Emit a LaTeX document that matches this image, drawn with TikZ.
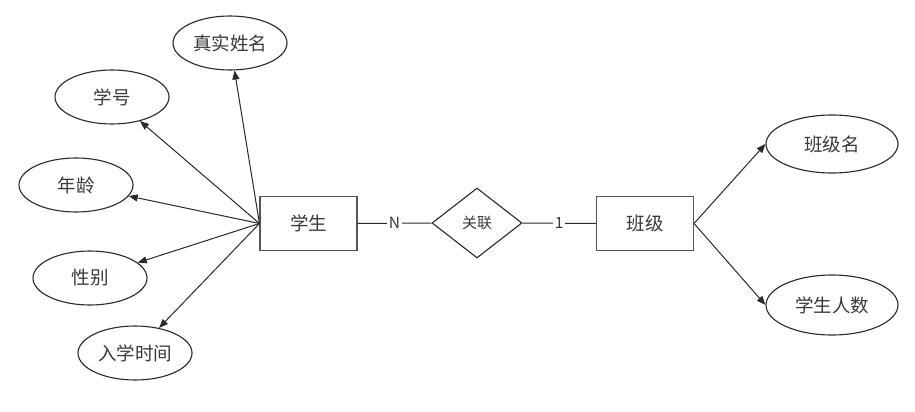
\documentclass[tikz,border=0pt]{standalone}
\usepackage{fontspec}
\newfontfamily\cjk{Noto Sans CJK SC}
\usetikzlibrary{shapes.geometric,arrows.meta}
\definecolor{txt}{HTML}{3A3A3A}
\definecolor{ln}{HTML}{2A2A2A}
\begin{document}
\begin{tikzpicture}[x=1pt,y=-1pt,
  every node/.style={font=\cjk\fontsize{18.5}{21}\selectfont, text=txt},
  attr/.style={ellipse, draw=ln, line width=1.1pt, minimum width=114pt, minimum height=54pt, inner sep=0pt},
  ent/.style={rectangle, draw=ln!80, line width=1.1pt, minimum width=97pt, minimum height=54pt, inner sep=0pt},
  rel/.style={diamond, draw=ln, line width=1.1pt, minimum width=90pt, minimum height=70pt, inner sep=0pt, font=\cjk\fontsize{15}{17}\selectfont},
  arr/.style={draw=ln, line width=1pt, -{Triangle[length=9pt,width=7pt]}},
  lnk/.style={draw=ln, line width=1pt},
  card/.style={fill=white, inner sep=1.5pt, font=\cjk\fontsize{15.5}{17}\selectfont}]
\useasboundingbox[fill=white] (0,0) rectangle (915,412);
\node[ent] (stu) at (308.5,223.5) {学生};
\node[ent] (cls) at (645,223.5) {班级};
\node[rel] (rl) at (477,223) {关联};
\node[attr] (name) at (230,43) {真实姓名};
\node[attr] (id) at (112,97) {学号};
\node[attr] (age) at (76,185) {年龄};
\node[attr] (sex) at (90,278) {性别};
\node[attr] (date) at (135,353) {入学时间};
\node[attr, minimum width=132pt, minimum height=58pt] (cname) at (832,144) {班级名};
\node[attr, minimum width=132pt, minimum height=60pt] (cnum) at (832,305) {学生人数};
\coordinate (sw) at (stu.west);
\coordinate (ce) at (cls.east);
\draw[arr] (sw) -- (name);
\draw[arr] (sw) -- (id);
\draw[arr] (sw) -- (age);
\draw[arr] (sw) -- (sex);
\draw[arr] (sw) -- (date);
\draw[arr] (ce) -- (cname.west);
\draw[arr] (ce) -- (cnum.west);
\draw[lnk] (stu.east) -- node[card] {N} (rl.west);
\draw[lnk] (rl.east) -- node[card] {1} (cls.west);
\end{tikzpicture}
\end{document}
